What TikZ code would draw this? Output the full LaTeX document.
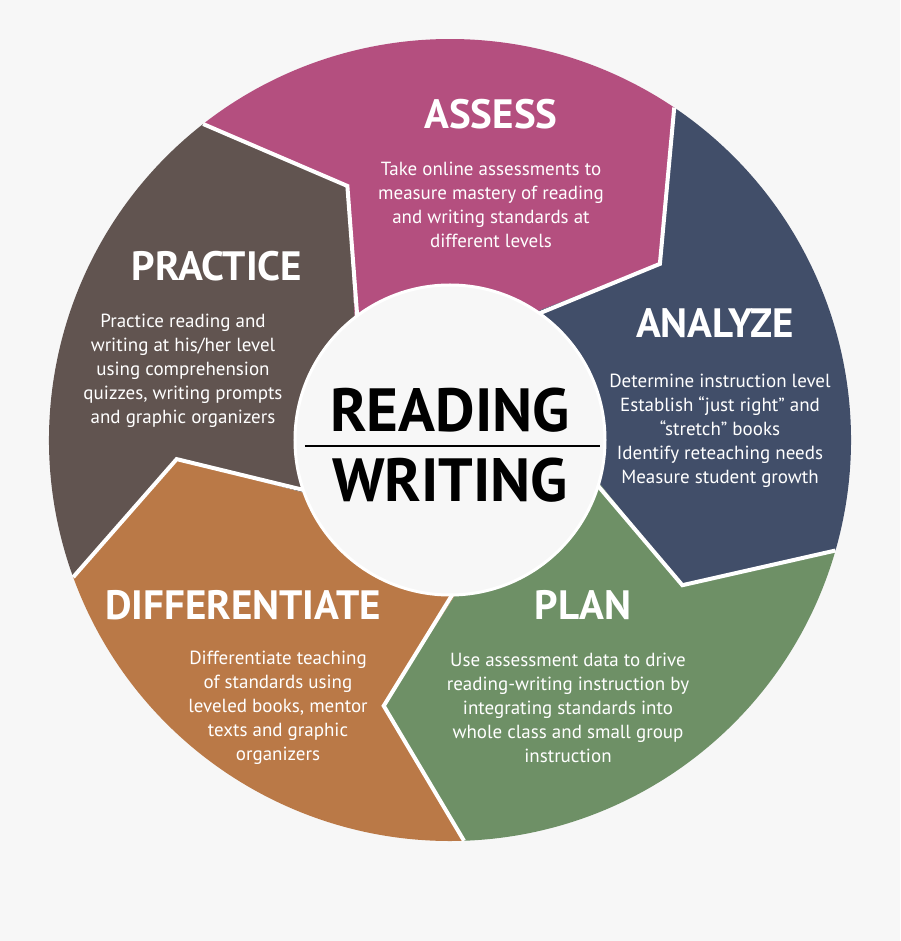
\documentclass[tikz,border=0pt]{standalone}
\usepackage{fontspec}
\setmainfont{PT Sans}
\definecolor{AssessPink}{HTML}{B44F7F}
\definecolor{AnalyzeBlue}{HTML}{414E69}
\definecolor{PlanGreen}{HTML}{6E9066}
\definecolor{DiffOrange}{HTML}{BA7947}
\definecolor{PracticeBrown}{HTML}{615450}
\definecolor{PaperGrey}{HTML}{F7F7F7}

\begin{document}
\begin{tikzpicture}[x=1pt, y=1pt,
    segtitle/.style={text=white, font=\fontsize{41}{43}\selectfont\bfseries},
    segtext/.style={text=white, align=center, font=\fontsize{19}{24}\selectfont}]
    \fill[PaperGrey] (-450,-501) rectangle (450,440);
    \useasboundingbox (-450,-501) rectangle (450,440);
    % the five segments of the wheel
    \foreach \a/\col in {56/AssessPink, 128/PracticeBrown, 200/DiffOrange, 272/PlanGreen, 344/AnalyzeBlue} {
        \fill[\col] (\a:155) -- (\a-16:274) -- (\a:401) arc[start angle=\a, end angle=\a+72, radius=401]
            -- (\a+56:274) -- (\a+72:155) -- (0,0) -- cycle;
    }
    \foreach \a in {56,128,200,272,344} {
        \draw[white, line width=4, line join=miter] (\a:150) -- (\a-16:274) -- (\a:401);
    }
    \filldraw[fill=PaperGrey, draw=white, line width=3] (0,0) circle[radius=155];
    % centre
    \node[font=\fontsize{61}{61}\selectfont\bfseries] (reading) at (0,30) {READING};
    \node[font=\fontsize{61}{61}\selectfont\bfseries] (writing) at (0,-40) {WRITING};
    \draw[line width=2] (-145,-6) -- (150,-6);
    % titles and texts
    \node[segtitle] (assess) at (41,326) {ASSESS};
    \node[segtext] (assesstext) at (41,235) {Take online assessments to\\measure mastery of reading\\and writing standards at\\different levels};
    \node[segtitle] (practice) at (-233,174) {PRACTICE};
    \node[segtext] (practicetext) at (-267,69) {Practice reading and\\writing at his/her level\\using comprehension\\quizzes, writing prompts\\and graphic organizers};
    \node[segtitle] (analyze) at (265,117) {ANALYZE};
    \node[segtext] (analyzetext) at (270,9) {Determine instruction level\\Establish “just right” and\\“stretch” books\\Identify reteaching needs\\Measure student growth};
    \node[segtitle] (plan) at (133,-165) {PLAN};
    \node[segtext] (plantext) at (118,-268) {Use assessment data to drive\\reading-writing instruction by\\integrating standards into\\whole class and small group\\instruction};
    \node[segtitle] (differentiate) at (-207,-165) {DIFFERENTIATE};
    \node[segtext] (difftext) at (-172,-268) {Differentiate teaching\\of standards using\\leveled books, mentor\\texts and graphic\\organizers};
\end{tikzpicture}
\end{document}
